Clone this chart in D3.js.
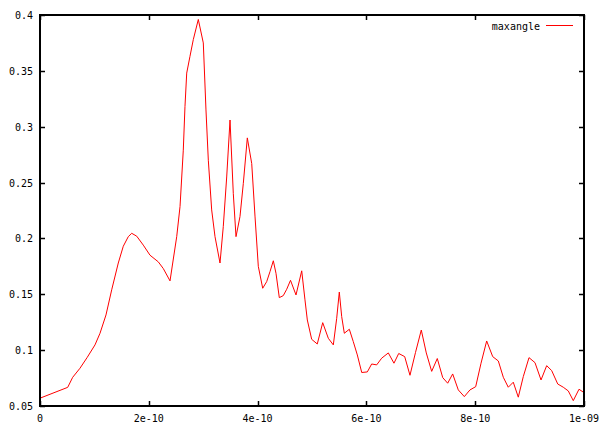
<!DOCTYPE html>
<html>
<head>
<meta charset="utf-8">
<script src="https://cdn.jsdelivr.net/npm/d3@7"></script>
<style>
  html, body { margin: 0; padding: 0; background: #fff; }
  svg { display: block; }
  text { font-family: "DejaVu Sans Mono", "Liberation Mono", monospace; font-size: 10px; fill: #000; }
</style>
</head>
<body>
<svg id="chart" width="600" height="428"></svg>
<script>
// time values (seconds)
const times = [
  0, 0.509e-10, 0.601e-10, 0.735e-10, 0.869e-10, 1.011e-10, 1.103e-10, 1.213e-10, 1.318e-10, 1.439e-10,
  1.531e-10, 1.623e-10, 1.686e-10, 1.778e-10, 1.899e-10, 2.022e-10, 2.175e-10, 2.267e-10, 2.390e-10, 2.513e-10,
  2.574e-10, 2.634e-10, 2.665e-10, 2.697e-10, 2.757e-10, 2.818e-10, 2.910e-10, 3.002e-10, 3.051e-10, 3.094e-10,
  3.156e-10, 3.217e-10, 3.309e-10, 3.369e-10, 3.432e-10, 3.493e-10, 3.553e-10, 3.603e-10, 3.676e-10, 3.737e-10,
  3.811e-10, 3.892e-10, 3.952e-10, 4.013e-10, 4.094e-10, 4.167e-10, 4.228e-10, 4.289e-10, 4.338e-10, 4.399e-10,
  4.472e-10, 4.535e-10, 4.605e-10, 4.706e-10, 4.811e-10, 4.871e-10, 4.914e-10, 4.994e-10, 5.097e-10, 5.197e-10,
  5.300e-10, 5.392e-10, 5.454e-10, 5.502e-10, 5.546e-10, 5.594e-10, 5.686e-10, 5.759e-10, 5.833e-10, 5.914e-10,
  6.017e-10, 6.097e-10, 6.189e-10, 6.281e-10, 6.403e-10, 6.507e-10, 6.594e-10, 6.704e-10, 6.801e-10, 6.903e-10,
  7.009e-10, 7.101e-10, 7.200e-10, 7.303e-10, 7.403e-10, 7.494e-10, 7.586e-10, 7.689e-10, 7.800e-10, 7.904e-10,
  8.009e-10, 8.107e-10, 8.211e-10, 8.322e-10, 8.425e-10, 8.517e-10, 8.608e-10, 8.700e-10, 8.792e-10, 8.884e-10,
  8.989e-10, 9.099e-10, 9.210e-10, 9.314e-10, 9.406e-10, 9.517e-10, 9.619e-10, 9.711e-10, 9.803e-10, 9.908e-10,
  1.0e-9
];
// maxangle values
const maxangle = [
  0.057, 0.0667, 0.0757, 0.0838, 0.0936, 0.1047, 0.1151, 0.1315, 0.154, 0.178,
  0.193, 0.2016, 0.2046, 0.202, 0.194, 0.185, 0.179, 0.173, 0.162, 0.2016,
  0.2285, 0.279, 0.318, 0.348, 0.363, 0.378, 0.396, 0.375, 0.315, 0.270,
  0.2255, 0.2016, 0.178, 0.2105, 0.255, 0.306, 0.2404, 0.2016, 0.2195, 0.249,
  0.29, 0.267, 0.22, 0.175, 0.1554, 0.1613, 0.1703, 0.180, 0.1688, 0.147,
  0.1488, 0.1545, 0.1625, 0.1494, 0.171, 0.145, 0.127, 0.1097, 0.1055, 0.1246,
  0.1106, 0.1047, 0.1285, 0.152, 0.130, 0.1151, 0.1187, 0.1076, 0.0957, 0.080,
  0.0805, 0.0876, 0.0868, 0.0928, 0.0975, 0.0883, 0.097, 0.0942, 0.0775, 0.098,
  0.118, 0.0975, 0.081, 0.0925, 0.0754, 0.0704, 0.0787, 0.0644, 0.0584, 0.0644,
  0.0673, 0.0883, 0.1082, 0.0942, 0.0903, 0.0757, 0.0668, 0.0713, 0.0579, 0.0763,
  0.0933, 0.0888, 0.0733, 0.0861, 0.0817, 0.0697, 0.0668, 0.0635, 0.0548, 0.065,
  0.062
];
const xTicks = [0, 2e-10, 4e-10, 6e-10, 8e-10, 1e-9];
const xTickLabels = ["0", "2e-10", "4e-10", "6e-10", "8e-10", "1e-09"];
const yTicks = [0.05, 0.1, 0.15, 0.2, 0.25, 0.3, 0.35, 0.4];
const yTickLabels = ["0.05", "0.1", "0.15", "0.2", "0.25", "0.3", "0.35", "0.4"];
const seriesName = "maxangle";

const svg = d3.select("#chart");
const L = 40, R = 584, T = 15, B = 406;
const x = d3.scaleLinear().domain([0, 1e-9]).range([L, R]);
const y = d3.scaleLinear().domain([0.05, 0.4]).range([B, T]);
const tk = 5;

// data line
const data = times.map((t, i) => [t, maxangle[i]]);
svg.append("path")
  .datum(data)
  .attr("fill", "none")
  .attr("stroke", "#ff0000")
  .attr("stroke-width", 1)
  .attr("d", d3.line().x(d => x(d[0])).y(d => y(d[1])));

// ticks (inward, mirrored)
const g = svg.append("g").attr("stroke", "#000").attr("stroke-width", 1.5);
xTicks.forEach(v => {
  const px = Math.round(x(v)) + 0.5;
  g.append("line").attr("x1", px).attr("x2", px).attr("y1", B).attr("y2", B - tk);
  g.append("line").attr("x1", px).attr("x2", px).attr("y1", T).attr("y2", T + tk);
});
yTicks.forEach(v => {
  const py = Math.round(y(v)) + 0.5;
  g.append("line").attr("x1", L).attr("x2", L + tk).attr("y1", py).attr("y2", py);
  g.append("line").attr("x1", R).attr("x2", R - tk).attr("y1", py).attr("y2", py);
});

// border
svg.append("rect")
  .attr("x", L).attr("y", T).attr("width", R - L).attr("height", B - T)
  .attr("fill", "none").attr("stroke", "#000").attr("stroke-width", 2);

// tick labels
xTicks.forEach((v, i) => {
  svg.append("text")
    .attr("x", x(v)).attr("y", B + 16)
    .attr("text-anchor", "middle")
    .text(xTickLabels[i]);
});
yTicks.forEach((v, i) => {
  svg.append("text")
    .attr("x", 33).attr("y", y(v) + 4)
    .attr("text-anchor", "end")
    .text(yTickLabels[i]);
});

// legend
svg.append("text")
  .attr("x", 540).attr("y", 29.5)
  .attr("text-anchor", "end")
  .text(seriesName);
svg.append("line")
  .attr("x1", 546).attr("x2", 573).attr("y1", 25.5).attr("y2", 25.5)
  .attr("stroke", "#ff0000").attr("stroke-width", 1);
</script>
</body>
</html>
